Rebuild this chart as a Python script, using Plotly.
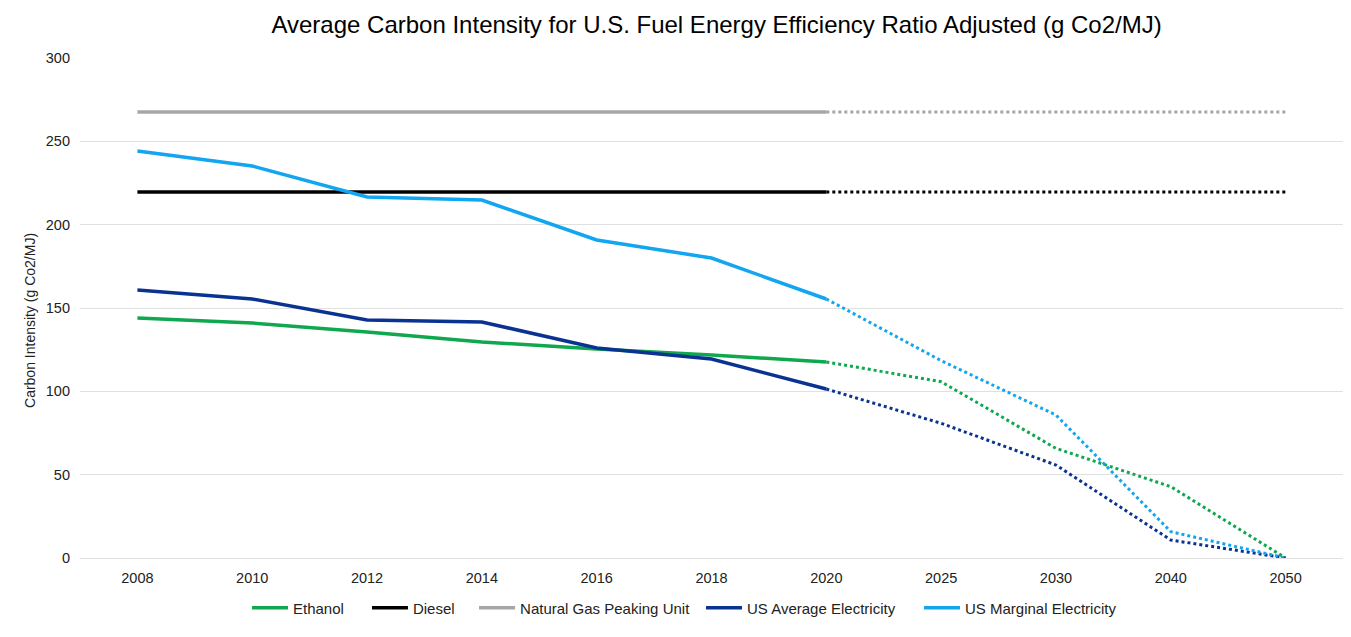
import plotly.graph_objects as go

years = ["2008", "2010", "2012", "2014", "2016", "2018", "2020", "2025", "2030", "2040", "2050"]
ethanol = [144.0, 141.0, 135.6, 129.6, 125.4, 121.8, 117.6, 105.8, 65.8, 42.8, 0]
diesel = [219.6] * 11
natural_gas = [267.6] * 11
us_avg = [160.8, 155.4, 142.8, 141.6, 126.0, 119.4, 101.4, 80.8, 55.8, 10.8, 0]
us_marginal = [244.2, 235.2, 216.6, 214.8, 190.8, 180.0, 155.4, 118.4, 85.8, 15.8, 0]

series = [
    ("Ethanol", ethanol, "#0fa84f"),
    ("Diesel", diesel, "#000000"),
    ("Natural Gas Peaking Unit", natural_gas, "#a6a6a6"),
    ("US Average Electricity", us_avg, "#0a3391"),
    ("US Marginal Electricity", us_marginal, "#12a5f0"),
]
legend_x = [0.1322, 0.2272, 0.3120, 0.4917, 0.6643]
legend_ids = ["legend", "legend2", "legend3", "legend4", "legend5"]
split = years.index("2020")

fig = go.Figure()
for (name, vals, color), lid in zip(series, legend_ids):
    fig.add_trace(go.Scatter(
        x=years[:split + 1], y=vals[:split + 1], name=name, mode="lines",
        line=dict(color=color, width=3.5), legendgroup=name, legend=lid))
for name, vals, color in series:
    fig.add_trace(go.Scatter(
        x=years[split:], y=vals[split:], name=name, mode="lines",
        line=dict(color=color, width=3, dash="dot"), legendgroup=name,
        showlegend=False))

fig.add_annotation(
    text="Carbon Intensity (g Co2/MJ)", textangle=-90,
    xref="paper", yref="paper", x=-0.0396, y=0.476,
    xanchor="center", yanchor="middle", showarrow=False,
    font=dict(size=14, color="#222"))

legend_style = dict(orientation="h", y=-0.1, yanchor="middle", xanchor="left",
                    font=dict(size=15, color="#222"), itemwidth=36,
                    bgcolor="rgba(0,0,0,0)")
layout_legends = {lid: dict(legend_style, x=lx) for lid, lx in zip(legend_ids, legend_x)}

fig.update_layout(
    width=1335, height=621,
    paper_bgcolor="white", plot_bgcolor="white",
    font=dict(family="Liberation Sans, Arial, sans-serif", color="#222"),
    title=dict(text="Average Carbon Intensity for U.S. Fuel Energy Efficiency Ratio Adjusted (g Co2/MJ)",
               xref="paper", x=0.504, xanchor="center", y=0.9726, yanchor="middle",
               font=dict(size=24, color="#000")),
    margin=dict(l=72, r=0, t=50, b=71),
    xaxis=dict(type="category", categoryorder="array", categoryarray=years,
               range=[-0.5, 10.5], showgrid=False, showline=False, ticks="",
               tickfont=dict(size=14.5, color="#222"), ticklabelstandoff=9),
    yaxis=dict(range=[0, 300], tick0=0, dtick=50, showgrid=True, gridcolor="#e0e0e0",
               gridwidth=1, zeroline=True, zerolinecolor="#e0e0e0", zerolinewidth=1,
               tickfont=dict(size=14.5, color="#222"), ticklabelstandoff=9),
    **layout_legends,
)

fig.write_html("out.html")
